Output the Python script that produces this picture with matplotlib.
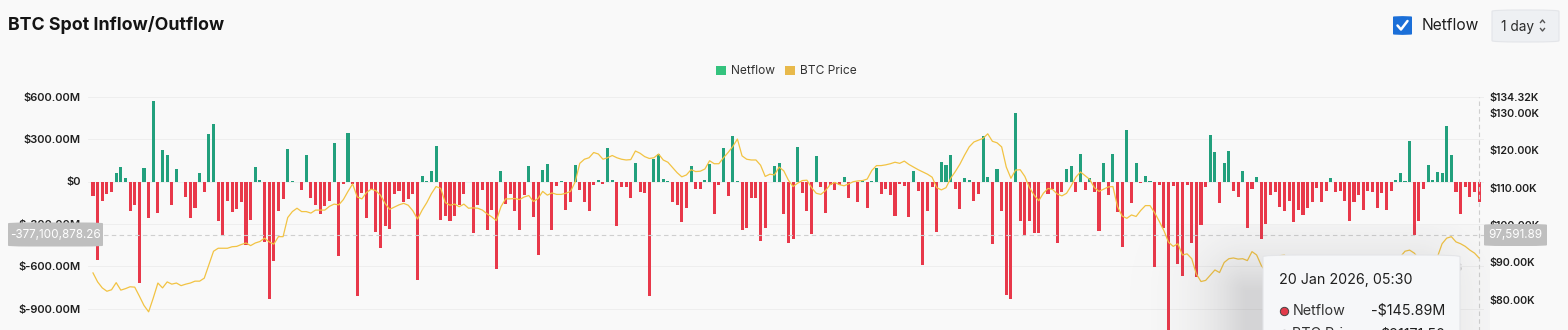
import matplotlib
matplotlib.use("Agg")
import matplotlib.pyplot as plt
import numpy as np
from matplotlib.patches import FancyBboxPatch, Rectangle
from matplotlib.lines import Line2D

# ---------------- data ----------------
netflow_m = [
    -106, -555, -135, -87, -71, 59, 104, 24, -212, -165,
    -720, 97, -257, 573, -224, 224, 191, -163, 85, -5,
    -113, -255, -189, 57, -76, 335, 408, -278, -389, -135,
    -217, -198, -146, -448, -271, 106, 12, -425, -833, -564,
    -210, -123, 229, 5, -5, -57, 184, -118, -163, -229,
    -170, -135, 271, -524, -19, 340, -15, -807, -83, -260,
    -52, -359, -467, -312, -335, -87, -64, -146, -123, -90,
    -694, 42, 3, 71, 253, -271, -241, -278, -241, -163,
    -85, -5, -366, -163, -59, -342, -200, -621, 71, -158,
    -87, -212, -342, -94, 109, -252, -519, 78, 123, -342,
    -33, 3, -200, -146, 118, -59, -142, -208, -28, 14,
    -21, 236, 9, -316, -40, -40, -118, 130, -76, -83,
    -812, 160, 196, 21, 2, -146, -165, -288, -189, 113,
    -52, -52, 14, 123, -229, -24, 238, -106, 323, 5,
    -342, -330, -118, -118, -418, -330, -3, 113, 132, -229,
    -434, -408, 243, -83, -210, -368, 177, -40, -224, -28,
    -59, -24, 35, -116, -3, -146, 5, -184, 7, 94,
    -90, -52, -94, -245, -19, -35, -248, 71, -66, -590,
    -212, -40, -359, 135, 118, 184, -52, -194, 24, 9,
    -135, -85, 323, 35, -444, 85, -210, -800, -828, 484,
    -283, -378, -278, -363, -363, -5, -87, -52, -437, -71,
    90, 113, -76, 194, -59, 24, -76, -347, 130, -94,
    194, -217, -465, 366, -151, 132, -8, 42, 2, -607,
    -28, -330, -1080, -35, -585, -670, -24, -437, -677, -311,
    -40, 330, 212, -153, 132, 219, -66, -111, 71, -330,
    -52, 35, -406, -304, -94, -76, -177, -210, -135, -288,
    -201, -236, -189, -146, -47, -146, -68, 24, -76, -68,
    -135, -283, -146, -92, -205, -68, -71, -189, -83, -205,
    -68, 14, 59, 3, 286, -382, -276, -52, 120, 14,
    66, 61, 396, 191, -76, -229, -40, -111, -71, -145.89,
]

btc_price_k = [
    87.2, 84.8, 83.2, 82.3, 82.7, 84.6, 82.6, 83.0, 83.5, 83.4,
    81.0, 78.5, 76.8, 80.5, 84.5, 83.2, 84.8, 84.2, 84.5, 83.8,
    84.2, 84.5, 85.0, 85.0, 85.8, 89.4, 93.0, 93.8, 93.8, 93.8,
    94.2, 94.3, 94.8, 95.2, 94.5, 95.2, 95.6, 96.5, 95.5, 94.9,
    96.9, 96.9, 102.0, 103.6, 104.5, 103.6, 103.6, 103.2, 104.0, 104.0,
    104.0, 105.0, 105.6, 105.4, 106.8, 109.0, 111.0, 107.5, 107.0, 108.7,
    109.6, 109.2, 108.0, 105.8, 104.2, 104.8, 105.4, 105.8, 105.3, 103.8,
    101.6, 104.0, 106.0, 108.4, 110.3, 109.8, 106.0, 105.3, 105.6, 104.9,
    105.6, 104.5, 104.6, 104.5, 104.0, 103.0, 102.2, 101.2, 104.9, 107.0,
    107.0, 107.1, 106.8, 107.5, 107.9, 106.3, 107.1, 109.0, 108.0, 108.6,
    108.2, 108.2, 108.5, 109.0, 111.5, 116.5, 117.6, 118.0, 119.4, 119.0,
    117.6, 118.0, 118.6, 118.0, 117.6, 117.4, 117.5, 119.8, 119.2, 118.3,
    117.8, 118.0, 119.0, 117.4, 116.8, 115.4, 114.0, 112.9, 113.4, 114.8,
    114.3, 114.4, 115.0, 117.2, 116.4, 116.4, 118.0, 119.4, 121.0, 123.0,
    118.5, 117.6, 117.4, 117.4, 116.0, 113.0, 113.6, 113.4, 115.5, 114.5,
    112.0, 110.3, 111.2, 111.9, 112.0, 110.0, 108.5, 108.2, 109.2, 110.8,
    111.4, 110.8, 110.5, 111.0, 111.6, 111.8, 111.9, 112.3, 114.6, 115.9,
    115.9, 116.1, 116.4, 116.8, 116.5, 117.1, 116.2, 115.5, 114.8, 114.2,
    113.6, 112.8, 110.0, 109.4, 110.0, 112.5, 114.3, 116.3, 118.7, 120.9,
    122.2, 122.7, 123.2, 124.4, 122.4, 122.0, 120.9, 115.5, 112.5, 114.7,
    114.8, 113.0, 110.0, 108.0, 106.5, 108.5, 109.8, 109.5, 108.3, 107.8,
    108.5, 110.5, 112.8, 114.2, 113.2, 112.2, 110.0, 109.0, 109.6, 110.2,
    110.3, 104.9, 102.4, 101.8, 102.7, 102.3, 103.9, 105.2, 105.2, 103.3,
    101.0, 98.5, 95.4, 94.3, 95.0, 92.0, 92.3, 91.0, 86.9, 84.9,
    85.2, 86.6, 88.0, 87.3, 90.0, 91.0, 91.2, 90.9, 91.0, 90.5,
    92.9, 92.0, 89.2, 87.5, 88.5, 90.5, 91.8, 92.0, 90.0, 89.5,
    90.2, 89.0, 88.0, 87.5, 86.4, 86.0, 87.8, 88.2, 87.0, 88.5,
    88.0, 87.5, 87.2, 87.6, 87.4, 87.9, 87.8, 87.0, 87.5, 88.6,
    89.5, 90.2, 91.5, 93.0, 93.3, 92.5, 91.0, 90.6, 90.8, 90.5,
    91.5, 95.0, 96.5, 96.9, 95.5, 95.0, 94.3, 93.3, 92.5, 91.17,
]

left_ticks = [600, 300, 0, -300, -600, -900]
left_tick_labels = ["$600.00M", "$300.00M", "$0", "$-300.00M", "$-600.00M",
                    "$-900.00M"]
right_ticks = [134.32, 130, 120, 110, 100, 90, 80]
right_tick_labels = ["$134.32K", "$130.00K", "$120.00K", "$110.00K", "$100.00K",
                     "$90.00K", "$80.00K"]

cross_netflow_label = "-377,100,878.26"
cross_price_label = "97,591.89"
cross_netflow_value = -377.1
tooltip_date = "20 Jan 2026, 05:30"
tooltip_netflow = "-$145.89M"
tooltip_price = "$91171.50"

# ---------------- style ----------------
BG = "#f9f9f9"
GREEN = "#22a07d"
RED = "#e8384a"
GOLD = "#f2c343"
TXT = "#1f1f1f"
FONT = ["Inter", "DejaVu Sans"]
plt.rcParams["font.family"] = FONT

W, H = 1568, 330
fig = plt.figure(figsize=(W / 100, H / 100), dpi=100)
fig.patch.set_facecolor(BG)


def fx(px):
    return px / W


def fy(py):
    return 1 - py / H


# axes geometry in pixels (y downwards)
pitch = 4.636
x0_px = 93.0
ax_l = x0_px - pitch
ax_r = x0_px + 300 * pitch
ax_t = 96.7
ax_b = 351.1

ax = fig.add_axes([fx(ax_l), fy(ax_b), (ax_r - ax_l) / W, (ax_b - ax_t) / H])
ax.set_facecolor("none")
n = len(netflow_m)
xs = np.arange(n)
colors = [GREEN if v >= 0 else RED for v in netflow_m]
ax.bar(xs, netflow_m, width=0.66, color=colors, zorder=2, linewidth=0)
ax.set_xlim(-1, 300)
ax.set_ylim(-1200, 600)
ax.set_yticks(left_ticks)
ax.set_yticklabels(left_tick_labels)
ax.tick_params(axis="y", length=0, pad=5.5, labelsize=8.0, labelcolor=TXT)
for lb in ax.get_yticklabels():
    lb.set_fontweight("semibold")
ax.set_xticks([])
ax.yaxis.grid(True, color="#ededed", linewidth=0.6, zorder=0)
ax.set_axisbelow(True)
for s in ax.spines.values():
    s.set_visible(False)

ax2 = ax.twinx()
ax2.plot(xs, btc_price_k, color=GOLD, linewidth=0.9, zorder=3)
ax2.set_ylim(134.32 - (ax_b - ax_t) / 3.74, 134.32)
ax2.set_yticks(right_ticks)
ax2.set_yticklabels(right_tick_labels)
ax2.tick_params(axis="y", length=0, pad=4, labelsize=7.7, labelcolor=TXT)
for lb in ax2.get_yticklabels():
    lb.set_fontweight("semibold")
for s in ax2.spines.values():
    s.set_visible(False)

# crosshair
ax.axhline(cross_netflow_value, color="#cfcfcf", linewidth=0.8,
           linestyle=(0, (4, 3)), zorder=4)
ax.axvline(n - 1, color="#cfcfcf", linewidth=0.8,
           linestyle=(0, (4, 3)), zorder=4)


# ---------------- overlays (figure pixel coords) ----------------
def fig_box(x, y, w, h, fc, ec="none", r=4, z=10, lw=0.8, alpha=1.0):
    p = FancyBboxPatch((fx(x), fy(y + h)), w / W, h / H,
                       boxstyle="round,pad=0,rounding_size=%f" % (r / H),
                       transform=fig.transFigure, fc=fc, ec=ec, lw=lw,
                       zorder=z, alpha=alpha, mutation_aspect=H / W)
    fig.add_artist(p)
    return p


# crosshair value labels
fig_box(8, 222.5, 95, 24, "#bfbfbf", r=4, z=20)
fig.text(fx(55.5), fy(235), cross_netflow_label, ha="center", va="center",
         color="white", fontsize=8.4, zorder=21)
fig_box(1484, 224, 63, 22, "#bfbfbf", r=4, z=20)
fig.text(fx(1515.5), fy(235.5), cross_price_label, ha="center", va="center",
         color="white", fontsize=8.4, zorder=21)

# watermark (mostly hidden behind tooltip)
fig.text(fx(1463), fy(267), "coinglass", ha="right", va="center",
         color="#cfcfcf", fontsize=10.5, fontweight="bold", zorder=8)

# tooltip shadow (soft, mostly towards the lower left)
sx0, sx1, sy0, sy1 = 1120, 1490, 225, 330
gx = np.arange(sx0, sx1) + 0.5
gy = np.arange(sy0, sy1) + 0.5
GX, GY = np.meshgrid(gx, gy)
bx0, bx1, by0, by1 = 1245, 1415, 290, 420
dx = np.maximum(np.maximum(bx0 - GX, GX - bx1), 0)
dy = np.maximum(np.maximum(by0 - GY, GY - by1), 0)
d = np.sqrt(dx ** 2 + dy ** 2)
alpha = 0.22 * np.exp(-(d / 42.0) ** 1.2)
img = np.zeros((len(gy), len(gx), 4))
img[..., 0] = 0.33
img[..., 1] = 0.33
img[..., 2] = 0.36
img[..., 3] = alpha
sax = fig.add_axes([fx(sx0), fy(sy1), (sx1 - sx0) / W, (sy1 - sy0) / H], zorder=9)
sax.imshow(img, extent=(0, 1, 0, 1), aspect="auto", interpolation="bilinear")
sax.axis("off")

# tooltip box
fig_box(1263, 255, 197, 110, "#f6f7f9", ec="#e4e5e8", r=8, z=30, lw=0.8)
fig.text(fx(1279), fy(280), tooltip_date, ha="left", va="center",
         color=TXT, fontsize=10.3, zorder=31)
for yy, col, name, val in [(311, "#e23a4a", "Netflow", tooltip_netflow),
                           (334, "#c9a03a", "BTC Price", tooltip_price)]:
    fig.add_artist(Line2D([fx(1283.5)], [fy(yy)], marker="o", markersize=6,
                          markerfacecolor=col, markeredgecolor="#444444",
                          markeredgewidth=0.7, transform=fig.transFigure,
                          zorder=31))
    fig.text(fx(1292.5), fy(yy), name, ha="left", va="center", color="#333333",
             fontsize=10.3, zorder=31)
    fig.text(fx(1445), fy(yy), val, ha="right", va="center", color=TXT,
             fontsize=10.3, zorder=31)

# ---------------- header ----------------
fig.text(fx(8), fy(25.5), "BTC Spot Inflow/Outflow", ha="left", va="center",
         color="#141414", fontsize=12.8, fontweight="bold", zorder=5)

# checkbox
fig_box(1393, 16, 19, 19, "#1b6fd8", r=3.5, z=5)
fig.add_artist(Line2D([fx(1397.5), fx(1401), fx(1407.5)],
                      [fy(25.5), fy(29.5), fy(21)], color="white", lw=1.8,
                      transform=fig.transFigure, zorder=6,
                      solid_capstyle="round", solid_joinstyle="round"))
fig.text(fx(1422), fy(26), "Netflow", ha="left", va="center", color=TXT,
         fontsize=11.2, zorder=5)

# interval selector
fig_box(1492, 10, 67, 32, "#eef0f3", ec="#e3e5e9", r=6, z=5)
fig.text(fx(1501), fy(26.5), "1 day", ha="left", va="center", color="#2a2a2a",
         fontsize=9.8, zorder=6)
fig.add_artist(Line2D([fx(1540.5), fx(1542.5), fx(1544.5)],
                      [fy(22.5), fy(20), fy(22.5)], color="#555555", lw=1.0,
                      transform=fig.transFigure, zorder=6))
fig.add_artist(Line2D([fx(1540.5), fx(1542.5), fx(1544.5)],
                      [fy(28.5), fy(31), fy(28.5)], color="#555555", lw=1.0,
                      transform=fig.transFigure, zorder=6))

# legend
fig.add_artist(Rectangle((fx(716), fy(75)), 10 / W, 9 / H, fc="#34c37e",
                         ec="none", transform=fig.transFigure, zorder=5))
fig.text(fx(731), fy(70.5), "Netflow", ha="left", va="center",
         color="#333333", fontsize=8.6, zorder=5)
fig.add_artist(Rectangle((fx(785), fy(75)), 10 / W, 9 / H, fc="#e8b94b",
                         ec="none", transform=fig.transFigure, zorder=5))
fig.text(fx(800), fy(70.5), "BTC Price", ha="left", va="center",
         color="#333333", fontsize=8.6, zorder=5)

fig.savefig("out.png", dpi=100, facecolor=BG)
